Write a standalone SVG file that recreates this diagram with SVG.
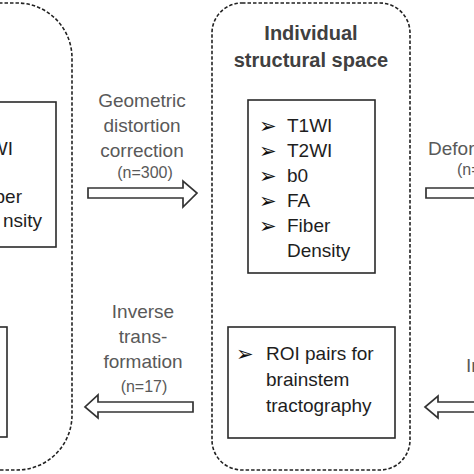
<svg xmlns="http://www.w3.org/2000/svg" width="474" height="474" viewBox="0 0 474 474">
<style>
.space{fill:none;stroke:#222;stroke-width:1.6;stroke-dasharray:3.5 2}
.box{fill:#fff;stroke:#2a2a2a;stroke-width:1.6}
.blk{fill:#fff;stroke:#333;stroke-width:1.7;stroke-linejoin:miter}
.t{font-family:"Liberation Sans",Arial,sans-serif;font-size:19px;fill:#1e1e1e}
.lab{font-family:"Liberation Sans",Arial,sans-serif;font-size:19px;fill:#595959;text-anchor:middle}
.n{font-size:16px}
.ttl{font-family:"Liberation Sans",Arial,sans-serif;font-size:20px;font-weight:bold;fill:#404040;text-anchor:middle}
.bul{font-family:"DejaVu Sans",sans-serif;font-size:21px;fill:#111}
</style>
<rect width="474" height="474" fill="#fff"/>

<g id="left-space">
  <rect class="space" x="-100" y="3" width="172" height="467" rx="55"/>
  <g id="left-box-1">
    <rect class="box" x="-80" y="102" width="136" height="145"/>
    <text class="t" text-anchor="end" x="13" y="155">WI</text>
    <text class="t" text-anchor="end" x="22" y="203">ber</text>
    <text class="t" text-anchor="end" x="42" y="227">nsity</text>
  </g>
  <g id="left-box-2">
    <rect class="box" x="-80" y="327" width="87" height="110"/>
  </g>
</g>

<g id="individual-space">
  <rect class="space" x="212" y="3" width="198" height="467" rx="30"/>
  <text class="ttl" x="311" y="40">Individual</text>
  <text class="ttl" x="311" y="67">structural space</text>
  <g id="images-box">
    <rect class="box" x="248" y="100" width="127" height="173"/>
    <text class="bul" x="259" y="133">➢</text>
    <text class="t" x="287" y="132">T1WI</text>
    <text class="bul" x="259" y="158">➢</text>
    <text class="t" x="287" y="157">T2WI</text>
    <text class="bul" x="259" y="183">➢</text>
    <text class="t" x="287" y="182">b0</text>
    <text class="bul" x="259" y="208">➢</text>
    <text class="t" x="287" y="207">FA</text>
    <text class="bul" x="259" y="233">➢</text>
    <text class="t" x="287" y="232">Fiber</text>
    <text class="t" x="287" y="257">Density</text>
  </g>
  <g id="roi-box">
    <rect class="box" x="228" y="327" width="167" height="111"/>
    <text class="bul" x="236" y="361">➢</text>
    <text class="t" x="266" y="360">ROI pairs for</text>
    <text class="t" x="266" y="386">brainstem</text>
    <text class="t" x="266" y="412">tractography</text>
  </g>
</g>

<g id="connectors">
  <g id="geometric-correction">
    <polygon class="blk" points="88,188 183,188 183,181 197,193 183,207 183,198 88,198"/>
    <text class="lab" x="142" y="107">Geometric</text>
    <text class="lab" x="142" y="132">distortion</text>
    <text class="lab" x="142" y="157">correction</text>
    <text class="lab n" x="145" y="178">(n=300)</text>
  </g>
  <g id="inverse-transformation">
    <polygon class="blk" points="193,402 98,402 98,395 85,407 98,418 98,412 193,412"/>
    <text class="lab" x="143" y="318">Inverse</text>
    <text class="lab" x="143" y="343">trans-</text>
    <text class="lab" x="143" y="368">formation</text>
    <text class="lab n" x="144" y="392">(n=17)</text>
  </g>
  <g id="deformation">
    <polygon class="blk" points="480,188 426,188 426,198 480,198"/>
    <text class="t" x="428" y="155" style="fill:#595959">Defor</text>
    <text class="t n" x="457" y="175" style="fill:#595959">(n=</text>
  </g>
  <g id="inverse-right">
    <polygon class="blk" points="480,402 438,402 438,396 425,407 438,418 438,412 480,412"/>
    <text class="t" x="466" y="372" style="fill:#595959">In</text>
  </g>
</g>
</svg>
